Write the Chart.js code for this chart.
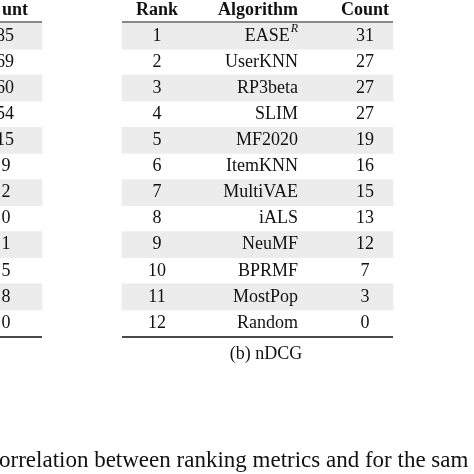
<!DOCTYPE html>
<html><head><meta charset="utf-8">
<script src="https://cdn.jsdelivr.net/npm/chart.js@4.4.0/dist/chart.umd.min.js"></script>
<style>html,body{margin:0;padding:0;background:#fff}#w{width:474px;height:474px}</style>
</head><body><div id="w"><canvas id="c"></canvas></div>
<script>
const ranks = ["1","2","3","4","5","6","7","8","9","10","11","12"];
const algorithms = ["EASE","UserKNN","RP3beta","SLIM","MF2020","ItemKNN","MultiVAE","iALS","NeuMF","BPRMF","MostPop","Random"];
const countsB = [31,27,27,27,19,16,15,13,12,7,3,0];
const countsA = ["85","69","60","54","15","9","2","0","1","5","8","0"];
const headers = ["Rank","Algorithm","Count"];
const captionB = "(b) nDCG";
const bottomText = "orrelation between ranking metrics and for the sam";

const F = '"Liberation Serif", "DejaVu Serif", serif';
const stripeRows = ranks.map((r,i)=> i%2===0 ? r : null);

const tablePlugin = {
  id:'table',
  afterDatasetsDraw(chart){
    const {ctx, scales:{x,y}} = chart;
    const px = v => x.getPixelForValue(v);
    const rowY = i => y.getPixelForValue(i);
    const top = y.top, bot = y.bottom;
    ctx.save();
    ctx.fillStyle = '#111';
    ctx.textBaseline = 'middle';
    ctx.font = 'bold 18px ' + F;
    ctx.textAlign = 'right'; ctx.fillText('unt', px(28), 10);
    ctx.textAlign = 'center';
    ctx.fillText(headers[0], px(157), 10);
    ctx.fillText(headers[1], px(258), 10);
    ctx.fillText(headers[2], px(365), 10);
    ctx.strokeStyle = '#111';
    ctx.lineWidth = 1;
    ctx.beginPath(); ctx.moveTo(px(0), top-1); ctx.lineTo(px(42), top-1);
    ctx.moveTo(px(122), top-1); ctx.lineTo(px(393), top-1); ctx.stroke();
    ctx.lineWidth = 1.6;
    ctx.beginPath(); ctx.moveTo(px(0), bot+1); ctx.lineTo(px(42), bot+1);
    ctx.moveTo(px(122), bot+1); ctx.lineTo(px(393), bot+1); ctx.stroke();
    ctx.font = '18px ' + F;
    ranks.forEach((r,i)=>{
      const yy = rowY(i);
      if(countsA[i].length>1){ctx.textAlign='right'; ctx.fillText(countsA[i], px(14), yy);}
      else {ctx.textAlign='center'; ctx.fillText(countsA[i], px(6), yy);}
      ctx.textAlign='center'; ctx.fillText(r, px(157), yy);
      ctx.fillText(String(countsB[i]), px(365), yy);
      ctx.textAlign='right';
      if(i===0){
        ctx.font = 'italic 12px ' + F;
        const rw = ctx.measureText('R').width;
        ctx.fillText('R', px(298), yy-7);
        ctx.font = '18px ' + F;
        ctx.fillText(algorithms[i], px(298)-rw-1, yy);
      } else ctx.fillText(algorithms[i], px(298), yy);
    });
    ctx.textAlign='center';
    ctx.fillText(captionB, px(266), 354);
    ctx.font = '23px ' + F;
    ctx.textAlign='left';
    ctx.fillText(bottomText, px(-1), 461);
    ctx.restore();
  }
};

new Chart(document.getElementById('c'), {
  type:'bar',
  data:{
    labels: ranks,
    datasets:[
      {data: stripeRows.map(r=> r? [0,42]: null), backgroundColor:'#ececec', categoryPercentage:1, barPercentage:1, grouped:false},
      {data: stripeRows.map(r=> r? [122,393]: null), backgroundColor:'#ececec', categoryPercentage:1, barPercentage:1, grouped:false}
    ]
  },
  options:{
    indexAxis:'y', responsive:true, maintainAspectRatio:false, animation:false,
    layout:{padding:{top:23,bottom:138,left:0,right:0}},
    plugins:{legend:{display:false},tooltip:{enabled:false}},
    scales:{
      x:{type:'linear',min:0,max:474,display:false},
      y:{display:false, offset:true}
    }
  },
  plugins:[tablePlugin]
});
</script></body></html>
